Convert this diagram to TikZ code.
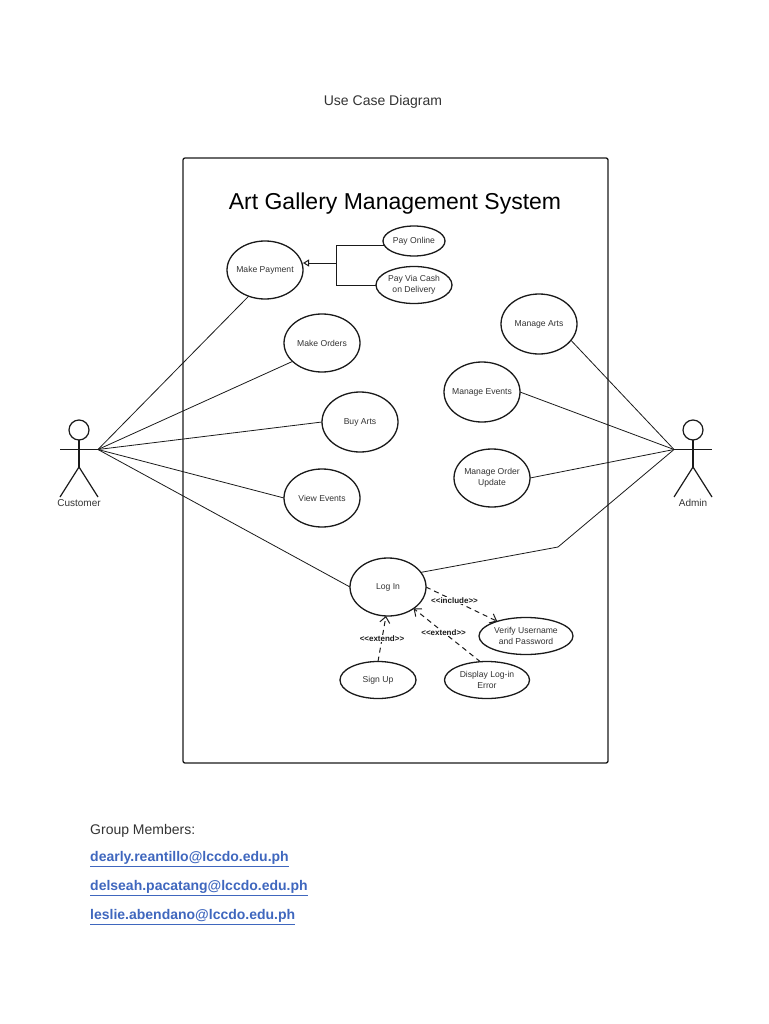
\documentclass[tikz,border=0pt]{standalone}
\usepackage{fontspec}
\setmainfont{Liberation Sans}
\usetikzlibrary{shapes.geometric,arrows.meta}
\definecolor{ink}{HTML}{1A1A1A}
\definecolor{mail}{HTML}{3F67BE}
\definecolor{caption}{HTML}{333333}
\tikzstyle{usecase}=[ellipse, draw=ink, line width=1.3pt, fill=white, inner sep=-6pt, outer sep=0,
  align=center, font=\fontsize{8.6}{10.6}\selectfont, text=caption]
\tikzstyle{uc big}=[usecase, minimum width=76, minimum height=58]
\tikzstyle{uc small}=[usecase, minimum height=37]
\tikzstyle{connect}=[line width=0.8pt, ink]
\tikzstyle{limb}=[line width=1.2pt, ink]
\tikzstyle{dep}=[line width=1pt, ink, dashed, dash pattern=on 5pt off 4pt, -{Straight Barb[length=6pt,width=10pt]}]
\tikzstyle{deplabel}=[fill=white, inner sep=0.5pt, font=\fontsize{8}{10}\selectfont\bfseries, text=ink]
\tikzstyle{mailtext}=[right, inner sep=0, font=\fontsize{14}{16}\selectfont\bfseries, text=mail]

\begin{document}
\begin{tikzpicture}[x=1pt, y=-1pt]
      \useasboundingbox (0, 0) rectangle (768, 1024);

      % PAGE TEXT
      \node[font=\fontsize{14}{16}\selectfont, text=caption] (Heading) at (383, 102) {Use Case Diagram};
      \node[right, inner sep=0, font=\fontsize{14}{16}\selectfont, text=caption] (Members) at (90, 831) {Group Members:};
      \node[mailtext] (Mail-1) at (90, 859) {\underline{dearly.reantillo@lccdo.edu.ph}};
      \node[mailtext] (Mail-2) at (90, 888) {\underline{delseah.pacatang@lccdo.edu.ph}};
      \node[mailtext] (Mail-3) at (90, 917) {\underline{leslie.abendano@lccdo.edu.ph}};

      % SYSTEM BOUNDARY
      \node[draw=ink, line width=1.3pt, rounded corners=2, minimum width=425, minimum height=605,
            inner sep=0, outer sep=0] (System) at (395.5, 460.5) {};
      \node[font=\fontsize{23}{27}\selectfont, text=black] (Title) at (395, 204) {Art Gallery Management System};

      % USE CASES
      \node[uc big] (Payment) at (265, 270) {Make Payment};
      \node[usecase, minimum width=62, minimum height=30] (Online) at (414, 241) {Pay Online};
      \node[uc small, minimum width=76] (Cash) at (414, 285) {Pay Via Cash\\on Delivery};
      \node[uc big] (Orders) at (322, 343) {Make Orders};
      \node[uc big, minimum height=60] (Buy) at (360, 422) {Buy Arts};
      \node[uc big] (Events) at (322, 498) {View Events};
      \node[uc big, minimum height=60] (Arts) at (539, 324) {Manage Arts};
      \node[uc big, minimum height=60] (MEvents) at (482, 392) {Manage Events};
      \node[uc big] (Update) at (492, 478) {Manage Order\\Update};
      \node[uc big] (LogIn) at (388, 587) {Log In};
      \node[uc small, minimum width=94] (Verify) at (526, 636) {Verify Username\\and Password};
      \node[uc small, minimum width=76] (SignUp) at (378, 680) {Sign Up};
      \node[uc small, minimum width=85] (Error) at (487, 680) {Display Log-in\\Error};

      % ACTORS
      \foreach \name/\x/\label in {Customer/79/Customer, Admin/693/Admin}{  % loop over actors
        \node[circle, draw=ink, line width=1.2pt, minimum size=20, inner sep=0, outer sep=0] (\name-head) at (\x, 430) {};
        \coordinate (\name-left) at (\x-19, 449.5);
        \coordinate (\name-right) at (\x+19, 449.5);
        \coordinate (\name-hip) at (\x, 467);
        \coordinate (\name-footl) at (\x-19, 497);
        \coordinate (\name-footr) at (\x+19, 497);
        \draw[limb] (\name-head) -- (\name-hip);
        \draw[limb] (\name-left) -- (\name-right);
        \draw[limb] (\name-footl) -- (\name-hip) -- (\name-footr);
        \node[font=\fontsize{10}{12}\selectfont, text=caption] (\name-label) at (\x, 503) {\label};
      }

      % CUSTOMER LINKS
      \foreach \uc/\a in {Payment/238, Orders/212, Buy/180, Events/180, LogIn/180}{
        \draw[connect] (Customer-right) -- (\uc.\a);
      }

      % ADMIN LINKS
      \foreach \uc/\a in {Arts/-27, MEvents/0, Update/0}{
        \draw[connect] (Admin-left) -- (\uc.\a);
      }
      \coordinate (Bend) at (558, 547);
      \draw[connect] (Admin-left) -- (Bend) -- (LogIn.24);

      % GENERALIZATION
      \coordinate (Junction) at (336, 263);
      \draw[line width=1pt, ink] (Online.188) -| (Junction);
      \draw[line width=1pt, ink] (Cash.180) -| (Junction);
      \draw[line width=1pt, ink, -{Triangle[open, length=6pt, width=7pt]}] (Junction) -- (Payment.east |- Junction);

      % DEPENDENCIES
      \draw[dep] (LogIn.0) -- (Verify.153) node[deplabel, pos=0.4] (Include) {<{}<include>{}>};
      \draw[dep] (SignUp.90) -- (LogIn.266) node[deplabel, pos=0.5] (Extend-1) {<{}<extend>{}>};
      \draw[dep] (Error.110) -- (LogIn.-40) node[deplabel, pos=0.55] (Extend-2) {<{}<extend>{}>};
    \end{tikzpicture}
\end{document}
